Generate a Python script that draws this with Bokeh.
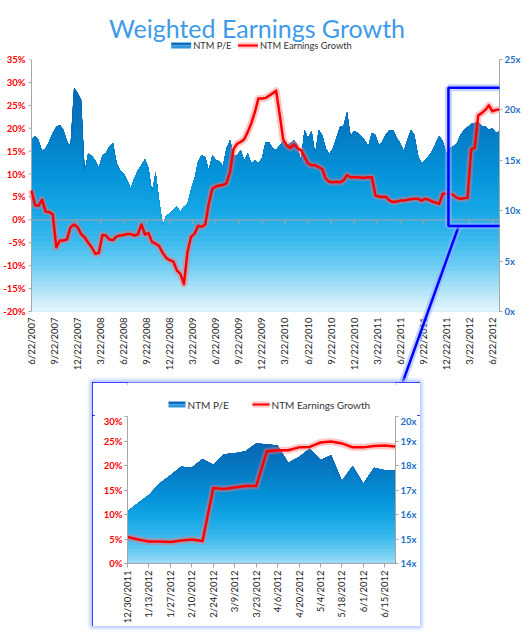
import numpy as np
from bokeh.plotting import figure
from bokeh.models import (Range1d, LinearAxis, FixedTicker, BoxAnnotation, Spacer)
from bokeh.core.properties import value
from bokeh.layouts import column, row
from bokeh.embed import file_html
from bokeh.resources import INLINE

# ---------------- data ----------------
DATE_LABELS = ["6/22/2007", "9/22/2007", "12/22/2007", "3/22/2008", "6/22/2008", "9/22/2008",
               "12/22/2008", "3/22/2009", "6/22/2009", "9/22/2009", "12/22/2009", "3/22/2010",
               "6/22/2010", "9/22/2010", "12/22/2010", "3/22/2011", "6/22/2011", "9/22/2011",
               "12/22/2011", "3/22/2012", "6/22/2012"]

# NTM P/E (x), one value every two weeks
MAIN_PE = [17.0, 17.4, 17.0, 15.9, 16.2, 16.9, 17.7, 18.3, 18.5, 18.0,
           16.9, 16.4, 22.2, 21.7, 21.0, 13.9, 15.7, 15.4, 15.0, 14.2,
           15.5, 15.7, 16.4, 16.7, 14.7, 14.0, 13.7, 13.0, 12.2, 13.2,
           14.0, 14.5, 15.1, 14.2,
           11.8, 13.8, 11.0, 8.5, 9.5, 9.7, 10.1, 10.4, 9.9, 10.4,
           10.7, 12.1, 13.2, 14.9, 15.5, 15.3, 14.0, 15.5, 15.0, 14.9,
           14.4, 16.2, 17.0, 15.5, 15.5, 16.0, 15.0, 15.7, 14.7, 15.0,
           14.7, 15.2, 16.8, 16.8,
           16.2, 16.0, 16.5, 16.9, 16.4, 16.7, 17.0, 16.5, 14.9, 18.0,
           17.2, 17.9, 15.6, 18.0, 17.5, 16.2, 15.6, 16.2, 17.2, 18.3,
           18.4, 19.8, 17.4, 17.9, 17.7, 17.4, 17.0, 16.4, 17.7, 17.5,
           16.5, 16.9, 17.6,
           18.0, 18.0, 17.2, 16.7, 15.9, 17.0, 18.0, 17.5, 15.5, 14.7,
           15.0, 15.4, 15.9, 16.7, 17.4, 16.9, 15.7, 16.2, 16.4, 16.7,
           17.5, 18.0, 18.3, 18.6, 18.7, 18.8, 18.4, 18.4, 18.0, 18.2,
           17.7, 17.9]

# NTM earnings growth (%), same dates
MAIN_GROWTH = [6.4, 3.2, 3.1, 4.4, 1.8, 1.7, 1.2, -6.0, -4.5, -4.5,
               -4.3, -1.6, -1.0, -1.6, -3.1, -3.8, -5.0, -6.0, -7.4, -7.2,
               -3.3, -3.4, -4.3, -4.4, -3.6, -3.4, -3.3, -3.1, -3.1, -3.4,
               -3.2, -1.0, -3.2, -2.9,
               -4.8, -5.2, -5.7, -7.2, -8.3, -8.8, -9.1, -11.0, -11.8, -14.0,
               -7.0, -3.7, -3.0, -1.3, -1.5, -1.0, 3.5, 6.8, 7.3, 7.5,
               7.6, 8.0, 10.5, 15.5, 16.6, 17.0, 17.6, 19.2, 21.1, 23.5,
               26.5, 26.5, 26.6, 27.1,
               27.6, 28.2, 23.0, 17.5, 16.3, 15.7, 16.5, 15.7, 15.2, 13.8,
               12.3, 11.9, 11.9, 11.5, 11.1, 9.0, 8.3, 8.2, 8.3, 8.2,
               8.6, 9.8, 9.3, 9.3, 9.3, 9.2, 9.2, 9.3, 9.3, 5.3,
               5.1, 5.0, 5.0,
               4.2, 3.9, 4.0, 4.2, 4.2, 4.4, 4.5, 4.6, 4.6, 4.2,
               4.6, 4.4, 4.0, 3.8, 3.5, 5.7, 5.7, 5.7, 5.4, 4.8,
               4.6, 4.7, 4.8, 15.4, 15.7, 22.8, 23.3, 24.0, 25.0, 23.7,
               24.0, 24.1]

INSET_LABELS = ["12/30/2011", "1/13/2012", "1/27/2012", "2/10/2012", "2/24/2012", "3/9/2012",
                "3/23/2012", "4/6/2012", "4/20/2012", "5/4/2012", "5/18/2012", "6/1/2012",
                "6/15/2012"]
# weekly values
INSET_PE = [16.13, 16.47, 16.80, 17.27, 17.60, 17.95, 17.92, 18.27, 18.03, 18.46,
            18.50, 18.58, 18.90, 18.87, 18.82, 18.11, 18.35, 18.69, 18.22, 18.42,
            17.37, 17.98, 17.26, 17.91, 17.81, 17.79]
INSET_GROWTH = [5.4, 4.9, 4.5, 4.5, 4.4, 4.7, 4.9, 4.6, 15.4, 15.2,
                15.5, 15.8, 15.8, 22.9, 23.1, 23.1, 23.7, 23.8, 24.7, 24.9,
                24.5, 23.7, 23.7, 24.0, 24.1, 23.9]

TITLE = "Weighted Earnings Growth"
SERIES_NAMES = ["NTM P/E", "NTM Earnings Growth"]
PCT_TICKS_MAIN = [-20, -15, -10, -5, 0, 5, 10, 15, 20, 25, 30, 35]
PE_TICKS_MAIN = [0, 5, 10, 15, 20, 25]
PCT_TICKS_INSET = [0, 5, 10, 15, 20, 25, 30]
PE_TICKS_INSET = [14, 15, 16, 17, 18, 19, 20]
POINTS_PER_LABEL = 6.5        # 13 weeks per label, 2 weeks per point
INSET_POINTS_PER_LABEL = 2    # 2 weeks per label, 1 week per point
ZOOM_FROM = 118               # first main point shown in the inset

# ---------------- styles / layout ----------------
RED = "#FF0000"
BLUE_TXT = "#1F6FC5"
AXIS_GRAY = "#A6A6A6"
TXT = "#262626"
FONT = "Lato"
PAGE_W = 530
HEAD_H = 52
MAIN_H = 330
MAIN_TOP = 7          # canvas px above the frame
AXIS_PX = 252         # pixel height of the labelled value span
PLOT_L, PLOT_R = 30, 499   # page x of first / last data point
BORDER_L = 24
TICK_PX = 3
INSET_X = 92
INSET_W = 328
INSET_HEAD_H = 33
INSET_H = 244
INSET_BL, INSET_BR = 35, 25
STOPS = [(0.0, (232, 246, 252)), (0.083, (181, 228, 248)), (0.19, (110, 205, 242)),
         (0.29, (61, 186, 238)), (0.42, (21, 166, 230)), (0.58, (3, 146, 216)),
         (0.75, (6, 121, 196)), (0.92, (8, 104, 181)), (1.0, (8, 98, 176))]


def grad(frac):
    frac = min(max(frac, 0.0), 1.0)
    for (f0, c0), (f1, c1) in zip(STOPS[:-1], STOPS[1:]):
        if frac <= f1:
            t = (frac - f0) / (f1 - f0)
            return "#%02x%02x%02x" % tuple(int(round(a + (b - a) * t)) for a, b in zip(c0, c1))
    return "#%02x%02x%02x" % STOPS[-1][1]


def gradient_area(p, x, vals, base, top, n, lo, hi, range_name):
    vals = np.asarray(vals, dtype=float)
    step = (top - base) / n
    tops = base + step * np.arange(1, n + 1)
    for h in tops[::-1]:
        frac = (h - step / 2 - lo) / (hi - lo)
        p.varea(x=x, y1=np.full(len(vals), float(base)), y2=np.minimum(vals, h),
                fill_color=grad(frac), y_range_name=range_name)


def style_axis(ax, color, size="9.5px", bold=True):
    ax.axis_line_color = AXIS_GRAY
    ax.major_tick_line_color = AXIS_GRAY
    ax.major_tick_out = TICK_PX
    ax.major_tick_in = 0
    ax.minor_tick_line_color = None
    ax.major_label_text_color = color
    ax.major_label_text_font = FONT
    ax.major_label_text_font_size = size
    ax.major_label_text_font_style = "bold" if bold else "normal"
    ax.major_label_standoff = 2


def bare_figure(w, h, x_range, bl, br):
    f = figure(width=w, height=h, x_range=x_range, y_range=Range1d(0, h),
               output_backend="svg", toolbar_location=None, title=None,
               x_axis_location=None, y_axis_location=None,
               min_border_left=bl, min_border_right=br, min_border_top=0, min_border_bottom=0)
    f.grid.visible = False
    f.outline_line_color = None
    return f


def draw_legend(f, to_x, xs, xl, yc, sw, size):
    """xs/xl/sw are pixel positions; to_x converts them to the figure's x units."""
    f.quad(left=[to_x(xs)], right=[to_x(xs + sw)], bottom=[yc], top=[yc + 3],
           fill_color="#0A6EBE", line_color=None)
    f.quad(left=[to_x(xs)], right=[to_x(xs + sw)], bottom=[yc - 3], top=[yc],
           fill_color="#2E97DC", line_color=None)
    f.text(x=[to_x(xs + sw + 2)], y=[yc], text=[SERIES_NAMES[0]], text_font=value(FONT),
           text_font_size=size, text_color="#333333", text_baseline="middle")
    f.line(x=[to_x(xl), to_x(xl + sw)], y=[yc, yc], line_color="#FF7070", line_width=6,
           line_alpha=0.4)
    f.line(x=[to_x(xl), to_x(xl + sw)], y=[yc, yc], line_color=RED, line_width=2.2)
    f.text(x=[to_x(xl + sw + 2)], y=[yc], text=[SERIES_NAMES[1]], text_font=value(FONT),
           text_font_size=size, text_color="#333333", text_baseline="middle")


# ---------------- main chart geometry ----------------
n_main = len(MAIN_PE)
x = np.arange(n_main)
px_per_idx = (PLOT_R - PLOT_L) / (n_main - 1)
page_to_idx = lambda px: (px - PLOT_L) / px_per_idx
x_start = page_to_idx(BORDER_L)
frame_h = MAIN_H - MAIN_TOP
pct_span = PCT_TICKS_MAIN[-1] - PCT_TICKS_MAIN[0]
pe_span = PE_TICKS_MAIN[-1] - PE_TICKS_MAIN[0]
pct_lo = PCT_TICKS_MAIN[-1] - pct_span * frame_h / AXIS_PX
pe_lo = PE_TICKS_MAIN[-1] - pe_span * frame_h / AXIS_PX
pct_per_px = pct_span / AXIS_PX

# ---------------- header (title + legend) ----------------
head = bare_figure(PAGE_W, HEAD_H, Range1d(x_start, n_main - 1), BORDER_L, PAGE_W - PLOT_R)
head.text(x=[page_to_idx(256)], y=[HEAD_H - 27], text=[TITLE], text_font=value(FONT),
          text_font_size="25px", text_color="#3E9BE8", text_align="center",
          text_baseline="alphabetic")
draw_legend(head, page_to_idx, 170, 237, HEAD_H - 45, 20, "9.3px")

# ---------------- main chart ----------------
p = figure(width=PAGE_W, height=MAIN_H, x_range=Range1d(x_start, n_main - 1),
           y_range=Range1d(pct_lo, PCT_TICKS_MAIN[-1]),
           output_backend="svg", toolbar_location=None, title=None, x_axis_location=None,
           min_border_left=BORDER_L, min_border_right=PAGE_W - PLOT_R,
           min_border_top=MAIN_TOP, min_border_bottom=0)
p.extra_y_ranges = {"pe": Range1d(pe_lo, PE_TICKS_MAIN[-1])}
p.grid.visible = False
p.outline_line_color = None

gradient_area(p, x, MAIN_PE, PE_TICKS_MAIN[0], PE_TICKS_MAIN[-1], 50, 0, 24, "pe")

main_ticks = [i * POINTS_PER_LABEL for i in range(len(DATE_LABELS))]
# category axis line at 0% with its tick marks
p.segment(x0=[0], y0=[0], x1=[n_main - 1], y1=[0], line_color=AXIS_GRAY, line_width=1)
p.segment(x0=main_ticks, y0=[0] * len(main_ticks), x1=main_ticks,
          y1=[-4 * pct_per_px] * len(main_ticks), line_color=AXIS_GRAY, line_width=1)
# left value-axis line and ticks at the first data point
p.segment(x0=[0], y0=[PCT_TICKS_MAIN[0]], x1=[0], y1=[PCT_TICKS_MAIN[-1]],
          line_color=AXIS_GRAY, line_width=1)
p.segment(x0=[-TICK_PX / px_per_idx] * len(PCT_TICKS_MAIN), y0=PCT_TICKS_MAIN,
          x1=[0] * len(PCT_TICKS_MAIN), y1=PCT_TICKS_MAIN, line_color=AXIS_GRAY, line_width=1)

p.line(x, MAIN_GROWTH, line_color="#FF7070", line_width=7, line_alpha=0.4, line_join="round")
p.line(x, MAIN_GROWTH, line_color=RED, line_width=2.5, line_join="round")

# date labels under the plot, reading upwards
p.text(x=main_ticks, y=[PCT_TICKS_MAIN[0] - 6 * pct_per_px] * len(main_ticks),
       text=DATE_LABELS, angle=np.pi / 2, text_align="right", text_baseline="middle",
       text_font=value(FONT), text_font_size="9.5px", text_color=TXT)

# zoom box and leader line
pct_to_pe = lambda v: (v - PCT_TICKS_MAIN[0]) * pe_span / pct_span
box_left = ZOOM_FROM - 0.4
box_right = n_main - 1 + 1.7
box_top = max(MAIN_PE[ZOOM_FROM:]) + 3.4
box_bottom = pct_to_pe(min(MAIN_GROWTH[ZOOM_FROM:])) - 2.7
lead_x0 = box_left + 2.9
lead_slope = -1.02          # index units per pe unit going down
lead_x = lambda pe: lead_x0 + (box_bottom - pe) * lead_slope
for lw, col, a in [(7, "#8FB0FF", 0.55), (2.5, "#0000FF", 1.0)]:
    p.add_layout(BoxAnnotation(left=box_left, right=box_right, top=box_top, bottom=box_bottom,
                               y_range_name="pe", fill_alpha=0, line_color=col,
                               line_width=lw, line_alpha=a))
    p.line(x=[lead_x(box_bottom), lead_x(pe_lo)], y=[box_bottom, pe_lo], y_range_name="pe",
           line_color=col, line_width=lw, line_alpha=a)

# axes
ax_l = p.yaxis[0]
style_axis(ax_l, RED)
ax_l.ticker = FixedTicker(ticks=PCT_TICKS_MAIN)
ax_l.major_label_overrides = {v: f"{v}%" for v in PCT_TICKS_MAIN}
ax_l.axis_line_color = None
ax_l.major_tick_line_color = None
ax_l.major_tick_out = 0
ax_l.major_label_standoff = 0
ax_r = LinearAxis(y_range_name="pe", ticker=FixedTicker(ticks=PE_TICKS_MAIN),
                  major_label_overrides={v: f"{v}x" for v in PE_TICKS_MAIN},
                  bounds=(PE_TICKS_MAIN[0], PE_TICKS_MAIN[-1]))
style_axis(ax_r, BLUE_TXT)
p.add_layout(ax_r, "right")

# ---------------- inset chart ----------------
n_in = len(INSET_PE)
in_px_per_idx = (INSET_W - INSET_BL - INSET_BR) / (n_in - 1)
in_to_idx = lambda px: (px - INSET_BL) / in_px_per_idx
head2 = bare_figure(INSET_W, INSET_HEAD_H, Range1d(0, n_in - 1), INSET_BL, INSET_BR)
draw_legend(head2, in_to_idx, 76, 160, INSET_HEAD_H - 22, 17, "10px")

xi = np.arange(n_in)
p2 = figure(width=INSET_W, height=INSET_H - INSET_HEAD_H, x_range=Range1d(0, n_in - 1),
            y_range=Range1d(PCT_TICKS_INSET[0], PCT_TICKS_INSET[-1]),
            output_backend="svg", toolbar_location=None, title=None,
            min_border_left=INSET_BL, min_border_right=INSET_BR, min_border_top=1,
            min_border_bottom=62)
p2.extra_y_ranges = {"pe": Range1d(PE_TICKS_INSET[0], PE_TICKS_INSET[-1])}
p2.grid.visible = False
p2.outline_line_color = None

gradient_area(p2, xi, INSET_PE, PE_TICKS_INSET[0], PE_TICKS_INSET[-1], 40, 13.3, 19.3, "pe")
p2.line(xi, INSET_GROWTH, line_color="#FF7070", line_width=7, line_alpha=0.4, line_join="round")
p2.line(xi, INSET_GROWTH, line_color=RED, line_width=2.5, line_join="round")

style_axis(p2.yaxis[0], RED)
p2.yaxis[0].ticker = FixedTicker(ticks=PCT_TICKS_INSET)
p2.yaxis[0].major_label_overrides = {v: f"{v}%" for v in PCT_TICKS_INSET}
ax2_r = LinearAxis(y_range_name="pe", ticker=FixedTicker(ticks=PE_TICKS_INSET),
                   major_label_overrides={v: f"{v}x" for v in PE_TICKS_INSET})
style_axis(ax2_r, BLUE_TXT)
p2.add_layout(ax2_r, "right")

inset_ticks = [i * INSET_POINTS_PER_LABEL for i in range(len(INSET_LABELS))]
xa2 = p2.xaxis[0]
style_axis(xa2, TXT, bold=False)
xa2.ticker = FixedTicker(ticks=inset_ticks)
xa2.major_label_overrides = {t: lab for t, lab in zip(inset_ticks, INSET_LABELS)}
xa2.major_label_orientation = np.pi / 2
xa2.major_tick_out = 4
xa2.major_label_standoff = 3

inset_box = column(head2, p2, styles={"outline": "3px solid #0000FF", "outline-offset": "-3px",
                                      "box-shadow": "0 0 4px 2px #A9C4FF"})
layout = column(head, p, row(Spacer(width=INSET_X, height=INSET_H), inset_box))
open("out.html", "w").write(file_html(layout, INLINE))
